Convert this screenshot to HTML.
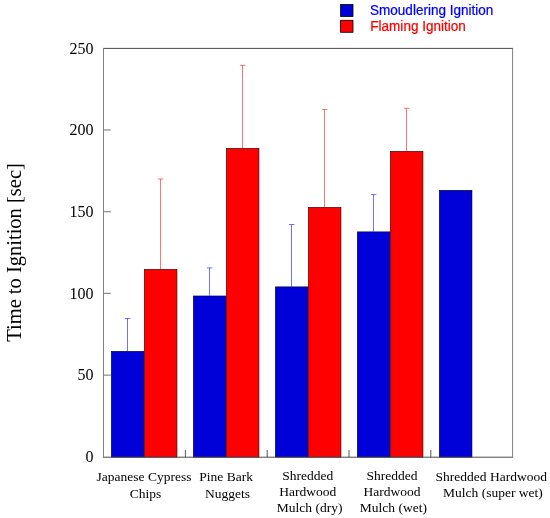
<!DOCTYPE html>
<html lang="en"><head><meta charset="utf-8"><title>Time to Ignition</title>
<style>html,body{margin:0;padding:0;background:#fff}svg{display:block}</style></head>
<body>
<svg width="550" height="518" viewBox="0 0 550 518">
<rect width="550" height="518" fill="#fff"/>
<path d="M127.50 351.00V318.50M124.90 318.50H130.40" stroke="#1414ff" stroke-width="0.6" fill="none"/>
<path d="M160.50 269.00V179.00M157.90 179.00H163.40" stroke="#ff1414" stroke-width="0.6" fill="none"/>
<path d="M209.50 295.70V267.90M206.90 267.90H212.40" stroke="#1414ff" stroke-width="0.6" fill="none"/>
<path d="M242.50 148.00V65.40M239.90 65.40H245.40" stroke="#ff1414" stroke-width="0.6" fill="none"/>
<path d="M291.50 286.60V224.50M288.90 224.50H294.40" stroke="#1414ff" stroke-width="0.6" fill="none"/>
<path d="M324.50 207.00V109.45M321.90 109.45H327.40" stroke="#ff1414" stroke-width="0.6" fill="none"/>
<path d="M373.50 231.60V194.60M370.90 194.60H376.40" stroke="#1414ff" stroke-width="0.6" fill="none"/>
<path d="M406.50 151.00V108.30M403.90 108.30H409.40" stroke="#ff1414" stroke-width="0.6" fill="none"/>
<rect x="111.25" y="351.25" width="32.75" height="105.95" fill="#0000d8" stroke="#000" stroke-width="0.5"/>
<rect x="144.25" y="269.25" width="32.75" height="187.95" fill="#ff0000" stroke="#000" stroke-width="0.5"/>
<rect x="193.25" y="295.95" width="32.75" height="161.25" fill="#0000d8" stroke="#000" stroke-width="0.5"/>
<rect x="226.25" y="148.25" width="32.75" height="308.95" fill="#ff0000" stroke="#000" stroke-width="0.5"/>
<rect x="275.25" y="286.85" width="32.75" height="170.35" fill="#0000d8" stroke="#000" stroke-width="0.5"/>
<rect x="308.25" y="207.25" width="32.75" height="249.95" fill="#ff0000" stroke="#000" stroke-width="0.5"/>
<rect x="357.25" y="231.85" width="32.75" height="225.35" fill="#0000d8" stroke="#000" stroke-width="0.5"/>
<rect x="390.25" y="151.25" width="32.75" height="305.95" fill="#ff0000" stroke="#000" stroke-width="0.5"/>
<rect x="439.25" y="190.25" width="32.75" height="266.95" fill="#0000d8" stroke="#000" stroke-width="0.5"/>
<path d="M103.1 48.4H513.1M103.1 457.2H513.1" stroke="#4c4c4c" stroke-width="1" fill="none"/>
<path d="M103.5 48.5V457.2M512.6 48.5V457.2" stroke="#808080" stroke-width="1" fill="none"/>
<path d="M103.6 375.16h7.2" stroke="#8a8a8a" stroke-width="1.2" fill="none"/>
<path d="M103.6 293.42h7.2" stroke="#8a8a8a" stroke-width="1.2" fill="none"/>
<path d="M103.6 211.68h7.2" stroke="#8a8a8a" stroke-width="1.2" fill="none"/>
<path d="M103.6 129.94h7.2" stroke="#8a8a8a" stroke-width="1.2" fill="none"/>
<path d="M185.40 457.2v-7.2" stroke="#555555" stroke-width="1" fill="none"/>
<path d="M267.20 457.2v-7.2" stroke="#555555" stroke-width="1" fill="none"/>
<path d="M349.00 457.2v-7.2" stroke="#555555" stroke-width="1" fill="none"/>
<path d="M430.80 457.2v-7.2" stroke="#555555" stroke-width="1" fill="none"/>
<text x="93.5" y="462.20" text-anchor="end" font-family="'Liberation Serif', serif" font-size="16" fill="#000">0</text>
<text x="93.5" y="380.46" text-anchor="end" font-family="'Liberation Serif', serif" font-size="16" fill="#000">50</text>
<text x="93.5" y="298.72" text-anchor="end" font-family="'Liberation Serif', serif" font-size="16" fill="#000">100</text>
<text x="93.5" y="216.98" text-anchor="end" font-family="'Liberation Serif', serif" font-size="16" fill="#000">150</text>
<text x="93.5" y="135.24" text-anchor="end" font-family="'Liberation Serif', serif" font-size="16" fill="#000">200</text>
<text x="93.5" y="53.50" text-anchor="end" font-family="'Liberation Serif', serif" font-size="16" fill="#000">250</text>
<text transform="translate(21.3 252.5) rotate(-90)" text-anchor="middle" font-family="'Liberation Serif', serif" font-size="20.5" fill="#000">Time to Ignition [sec]</text>
<text x="144.00" y="481.40" text-anchor="middle" font-family="'Liberation Serif', serif" font-size="13.5" fill="#000">Japanese Cypress</text>
<text x="145.60" y="497.50" text-anchor="middle" font-family="'Liberation Serif', serif" font-size="13.5" fill="#000">Chips</text>
<text x="226.10" y="481.40" text-anchor="middle" font-family="'Liberation Serif', serif" font-size="13.5" fill="#000">Pine Bark</text>
<text x="227.50" y="497.50" text-anchor="middle" font-family="'Liberation Serif', serif" font-size="13.5" fill="#000">Nuggets</text>
<text x="307.80" y="480.00" text-anchor="middle" font-family="'Liberation Serif', serif" font-size="13.5" fill="#000">Shredded</text>
<text x="307.80" y="496.20" text-anchor="middle" font-family="'Liberation Serif', serif" font-size="13.5" fill="#000">Hardwood</text>
<text x="309.60" y="511.90" text-anchor="middle" font-family="'Liberation Serif', serif" font-size="13.5" fill="#000">Mulch (dry)</text>
<text x="392.10" y="480.00" text-anchor="middle" font-family="'Liberation Serif', serif" font-size="13.5" fill="#000">Shredded</text>
<text x="392.10" y="496.20" text-anchor="middle" font-family="'Liberation Serif', serif" font-size="13.5" fill="#000">Hardwood</text>
<text x="393.40" y="511.90" text-anchor="middle" font-family="'Liberation Serif', serif" font-size="13.5" fill="#000">Mulch (wet)</text>
<text x="491.30" y="481.20" text-anchor="middle" font-family="'Liberation Serif', serif" font-size="13.5" fill="#000">Shredded Hardwood</text>
<text x="492.90" y="497.30" text-anchor="middle" font-family="'Liberation Serif', serif" font-size="13.5" fill="#000">Mulch (super wet)</text>
<rect x="340.6" y="4.5" width="12.4" height="12" fill="#0000d8" stroke="#000" stroke-width="0.8"/>
<rect x="340.6" y="20.3" width="12.4" height="12" fill="#ff0000" stroke="#000" stroke-width="0.8"/>
<text transform="translate(370.0 15.3) scale(0.921 1)" font-family="'Liberation Sans', sans-serif" font-size="14.7" fill="#0000ff" stroke="#0000ff" stroke-width="0.25">Smoudlering Ignition</text>
<text transform="translate(370.3 31.1) scale(0.921 1)" font-family="'Liberation Sans', sans-serif" font-size="14.7" fill="#ff0000" stroke="#ff0000" stroke-width="0.25">Flaming Ignition</text>
</svg>
</body></html>
